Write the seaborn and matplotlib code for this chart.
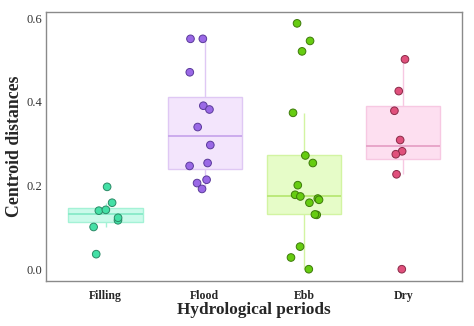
import numpy as np
import pandas as pd
import matplotlib
matplotlib.use("Agg")
import matplotlib.pyplot as plt
import seaborn as sns

categories = ["Filling", "Flood", "Ebb", "Dry"]
filling = [0.197, 0.159, 0.140, 0.142, 0.117, 0.123, 0.101, 0.036]
flood = [0.551, 0.551, 0.471, 0.391, 0.382, 0.340, 0.297, 0.254, 0.247, 0.214, 0.206, 0.192]
ebb = [0.588, 0.546, 0.521, 0.374, 0.272, 0.254, 0.201, 0.178, 0.174, 0.169, 0.166,
       0.159, 0.130, 0.131, 0.054, 0.028, 0.000]
dry = [0.502, 0.426, 0.379, 0.309, 0.282, 0.275, 0.227, 0.000]

point_colors = ["#44e0a6", "#9a68e6", "#66cc11", "#e0507c"]
point_edges = ["#2a8a66", "#5a3a9a", "#3d7a0a", "#8a2a48"]
box_face = ["#cbfaea", "#f3e5fc", "#e6fcc8", "#fddff0"]
box_edge = ["#a4f2d6", "#dfc8f4", "#d2f4a2", "#f7c8e2"]
median_col = ["#88eac8", "#c8a6ec", "#b8e874", "#e6a2c6"]

values = [filling, flood, ebb, dry]
df = pd.DataFrame({
    "period": [c for c, v in zip(categories, values) for _ in v],
    "dist": [x for v in values for x in v],
})

sns.set_theme(style="white")
plt.rcParams["font.family"] = ["Liberation Serif", "DejaVu Serif"]

fig = plt.figure(figsize=(4.74, 3.26), dpi=100)
ax = fig.add_axes([0.097, 0.137, 0.877, 0.826])

sns.boxplot(data=df, x="period", y="dist", order=categories, ax=ax,
            width=0.75, showfliers=False, whis=1.5, linewidth=1.0, saturation=1,
            hue="period", hue_order=categories, palette=box_face, legend=False)

for i, patch in enumerate(list(ax.patches)[:4]):
    patch.set_edgecolor(box_edge[i])
lines = ax.lines
per = len(lines) // 4
for i in range(4):
    for ln in lines[i * per:(i + 1) * per]:
        ln.set_color(box_edge[i])
        ln.set_linewidth(1.0)
    lines[i * per + 4].set_color(median_col[i])
    lines[i * per + 4].set_linewidth(1.3)
    lines[i * per + 2].set_visible(False)
    lines[i * per + 3].set_visible(False)

n_before = len(ax.collections)
np.random.seed(3)
sns.stripplot(data=df, x="period", y="dist", order=categories, ax=ax,
              hue="period", hue_order=categories, palette=point_colors, legend=False,
              jitter=0.16, size=5.5, linewidth=0.7, edgecolor="#444444", zorder=5)
for i, coll in enumerate(ax.collections[n_before:]):
    coll.set_edgecolor(point_edges[i % 4])

ax.set_xlim(-0.6, 3.59)
ax.set_ylim(-0.029, 0.615)
ax.set_yticks([0.0, 0.2, 0.4, 0.6])
ax.set_yticklabels(["0.0", "0.2", "0.4", "0.6"])
ax.tick_params(axis="y", labelsize=9, length=0, pad=3, colors="#333333")
ax.tick_params(axis="x", labelsize=8.5, length=0, pad=6)
for t in ax.get_xticklabels():
    t.set_fontweight("bold")
ax.set_xlabel("Hydrological periods", fontsize=12.3, fontweight="bold", labelpad=0)
ax.set_ylabel("Centroid distances", fontsize=12.8, fontweight="bold", labelpad=2)
for s in ax.spines.values():
    s.set_color("#8a8a8a")
    s.set_linewidth(1.0)

fig.savefig("out.png", dpi=100)
